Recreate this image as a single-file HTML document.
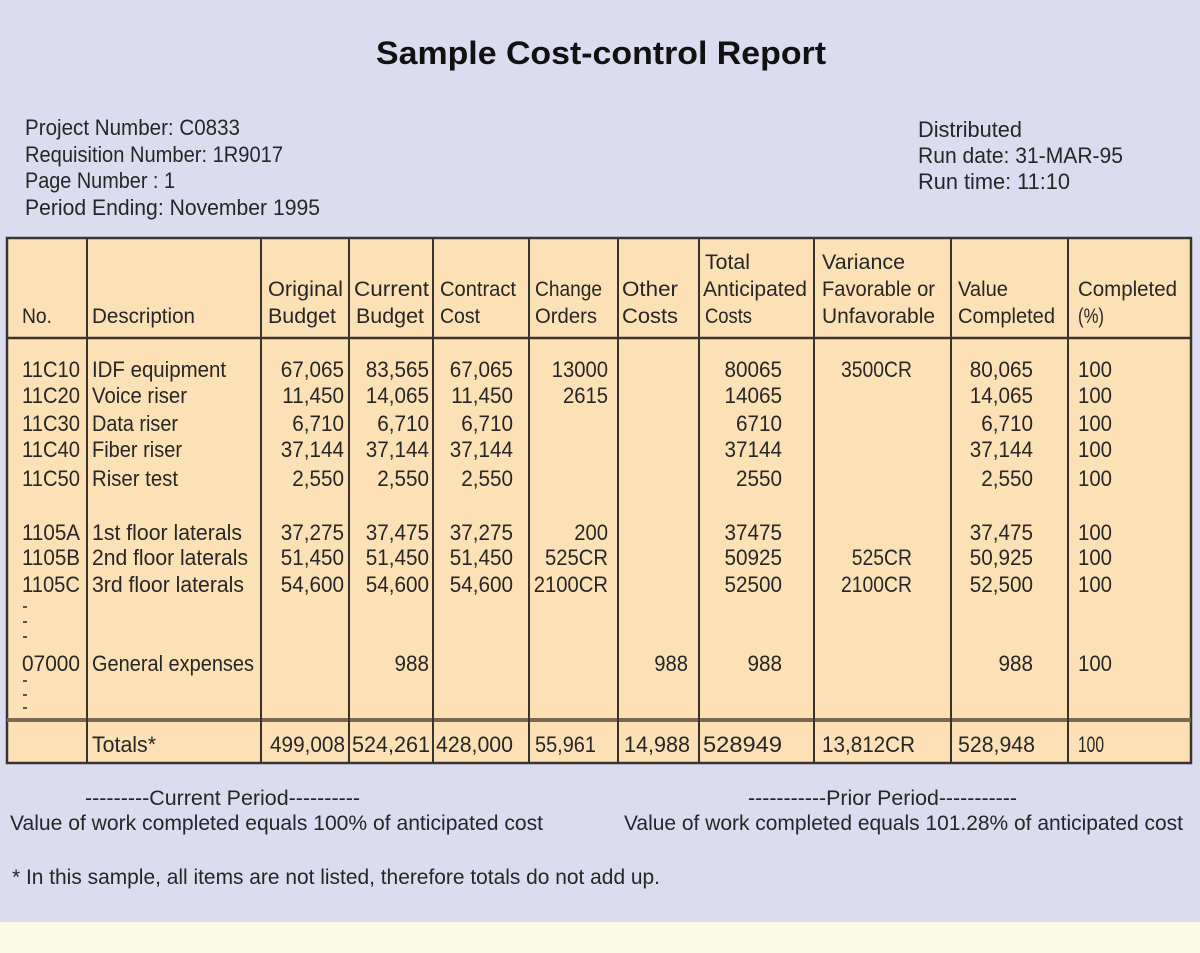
<!DOCTYPE html>
<html><head><meta charset="utf-8"><style>
html,body{margin:0;padding:0;background:#dcdcf0;}
svg{display:block;}
text{font-family:"Liberation Sans",Arial,sans-serif;fill:#262626;}
</style></head><body>
<svg width="1200" height="953" viewBox="0 0 1200 953" xmlns="http://www.w3.org/2000/svg">
<rect x="0" y="0" width="1200" height="953" fill="#dcdcf0"/>
<rect x="0" y="922" width="1200" height="31" fill="#fafbe4"/>

<!-- Title -->
<text x="376" y="64" font-size="32" font-weight="bold" textLength="450" lengthAdjust="spacingAndGlyphs" style="fill:#111">Sample Cost-control Report</text>

<!-- Left info -->
<g font-size="22">
<text x="25" y="135" textLength="215" lengthAdjust="spacingAndGlyphs">Project Number: C0833</text>
<text x="25" y="162" textLength="258" lengthAdjust="spacingAndGlyphs">Requisition Number: 1R9017</text>
<text x="25" y="188" textLength="150" lengthAdjust="spacingAndGlyphs">Page Number : 1</text>
<text x="25" y="215" textLength="295" lengthAdjust="spacingAndGlyphs">Period Ending: November 1995</text>
<text x="918" y="137" textLength="104" lengthAdjust="spacingAndGlyphs">Distributed</text>
<text x="918" y="163" textLength="205" lengthAdjust="spacingAndGlyphs">Run date: 31-MAR-95</text>
<text x="918" y="189" textLength="152" lengthAdjust="spacingAndGlyphs">Run time:  11:10</text>
</g>

<!-- Table -->
<rect x="7" y="238" width="1184" height="525" fill="#fde1b6" stroke="#3a332e" stroke-width="2.5"/>
<line x1="7" y1="338" x2="1191" y2="338" stroke="#3a332e" stroke-width="2.5"/>
<line x1="7" y1="720" x2="1191" y2="720" stroke="#7a6a58" stroke-width="4"/>
<g stroke="#3a332e" stroke-width="2">
<line x1="87" y1="238" x2="87" y2="763"/>
<line x1="261" y1="238" x2="261" y2="763"/>
<line x1="349" y1="238" x2="349" y2="763"/>
<line x1="433" y1="238" x2="433" y2="763"/>
<line x1="529" y1="238" x2="529" y2="763"/>
<line x1="618" y1="238" x2="618" y2="763"/>
<line x1="699" y1="238" x2="699" y2="763"/>
<line x1="814" y1="238" x2="814" y2="763"/>
<line x1="951" y1="238" x2="951" y2="763"/>
<line x1="1068" y1="238" x2="1068" y2="763"/>
</g>

<!-- Header -->
<g font-size="21">
<text x="22" y="323" textLength="30" lengthAdjust="spacingAndGlyphs">No.</text>
<text x="92" y="323" textLength="103" lengthAdjust="spacingAndGlyphs">Description</text>
<text x="268" y="296" textLength="75" lengthAdjust="spacingAndGlyphs">Original</text>
<text x="268" y="323" textLength="68" lengthAdjust="spacingAndGlyphs">Budget</text>
<text x="354" y="296" textLength="75" lengthAdjust="spacingAndGlyphs">Current</text>
<text x="356" y="323" textLength="68" lengthAdjust="spacingAndGlyphs">Budget</text>
<text x="440" y="296" textLength="76" lengthAdjust="spacingAndGlyphs">Contract</text>
<text x="440" y="323" textLength="40" lengthAdjust="spacingAndGlyphs">Cost</text>
<text x="535" y="296" textLength="67" lengthAdjust="spacingAndGlyphs">Change</text>
<text x="535" y="323" textLength="62" lengthAdjust="spacingAndGlyphs">Orders</text>
<text x="622" y="296" textLength="56" lengthAdjust="spacingAndGlyphs">Other</text>
<text x="622" y="323" textLength="56" lengthAdjust="spacingAndGlyphs">Costs</text>
<text x="705" y="269" textLength="45" lengthAdjust="spacingAndGlyphs">Total</text>
<text x="703" y="296" textLength="104" lengthAdjust="spacingAndGlyphs">Anticipated</text>
<text x="705" y="323" textLength="47" lengthAdjust="spacingAndGlyphs">Costs</text>
<text x="822" y="269" textLength="83" lengthAdjust="spacingAndGlyphs">Variance</text>
<text x="822" y="296" textLength="113" lengthAdjust="spacingAndGlyphs">Favorable or</text>
<text x="822" y="323" textLength="113" lengthAdjust="spacingAndGlyphs">Unfavorable</text>
<text x="958" y="296" textLength="50" lengthAdjust="spacingAndGlyphs">Value</text>
<text x="958" y="323" textLength="97" lengthAdjust="spacingAndGlyphs">Completed</text>
<text x="1078" y="296" textLength="99" lengthAdjust="spacingAndGlyphs">Completed</text>
<text x="1078" y="323" textLength="26" lengthAdjust="spacingAndGlyphs">(%)</text>
</g>

<!-- Data rows -->
<g font-size="22">
<text x="22" y="377" textLength="58" lengthAdjust="spacingAndGlyphs">11C10</text>
<text x="22" y="403" textLength="58" lengthAdjust="spacingAndGlyphs">11C20</text>
<text x="22" y="431" textLength="58" lengthAdjust="spacingAndGlyphs">11C30</text>
<text x="22" y="457" textLength="58" lengthAdjust="spacingAndGlyphs">11C40</text>
<text x="22" y="486" textLength="58" lengthAdjust="spacingAndGlyphs">11C50</text>
<text x="22" y="540" textLength="58" lengthAdjust="spacingAndGlyphs">1105A</text>
<text x="22" y="565" textLength="58" lengthAdjust="spacingAndGlyphs">1105B</text>
<text x="22" y="592" textLength="58" lengthAdjust="spacingAndGlyphs">1105C</text>
<text x="22" y="671" textLength="58" lengthAdjust="spacingAndGlyphs">07000</text>
<text x="92" y="377" textLength="134" lengthAdjust="spacingAndGlyphs">IDF equipment</text>
<text x="92" y="403" textLength="95" lengthAdjust="spacingAndGlyphs">Voice riser</text>
<text x="92" y="431" textLength="86" lengthAdjust="spacingAndGlyphs">Data riser</text>
<text x="92" y="457" textLength="90" lengthAdjust="spacingAndGlyphs">Fiber riser</text>
<text x="92" y="486" textLength="86" lengthAdjust="spacingAndGlyphs">Riser test</text>
<text x="92" y="540" textLength="150" lengthAdjust="spacingAndGlyphs">1st floor laterals</text>
<text x="92" y="565" textLength="156" lengthAdjust="spacingAndGlyphs">2nd floor laterals</text>
<text x="92" y="592" textLength="152" lengthAdjust="spacingAndGlyphs">3rd floor laterals</text>
<text x="92" y="671" textLength="162" lengthAdjust="spacingAndGlyphs">General expenses</text>
</g>

<g font-size="22" text-anchor="end">
<!-- Original Budget -->
<g transform="translate(344,0) scale(0.94,1)">
<text x="0" y="377">67,065</text>
<text x="0" y="403">11,450</text>
<text x="0" y="431">6,710</text>
<text x="0" y="457">37,144</text>
<text x="0" y="486">2,550</text>
<text x="0" y="540">37,275</text>
<text x="0" y="565">51,450</text>
<text x="0" y="592">54,600</text>
</g>
<!-- Current Budget -->
<g transform="translate(429,0) scale(0.94,1)">
<text x="0" y="377">83,565</text>
<text x="0" y="403">14,065</text>
<text x="0" y="431">6,710</text>
<text x="0" y="457">37,144</text>
<text x="0" y="486">2,550</text>
<text x="0" y="540">37,475</text>
<text x="0" y="565">51,450</text>
<text x="0" y="592">54,600</text>
<text x="0" y="671">988</text>
</g>
<!-- Contract Cost -->
<g transform="translate(513,0) scale(0.94,1)">
<text x="0" y="377">67,065</text>
<text x="0" y="403">11,450</text>
<text x="0" y="431">6,710</text>
<text x="0" y="457">37,144</text>
<text x="0" y="486">2,550</text>
<text x="0" y="540">37,275</text>
<text x="0" y="565">51,450</text>
<text x="0" y="592">54,600</text>
</g>
<!-- Change Orders -->
<g transform="translate(608,0) scale(0.92,1)">
<text x="0" y="377">13000</text>
<text x="0" y="403">2615</text>
<text x="0" y="540">200</text>
<text x="0" y="565">525CR</text>
<text x="0" y="592">2100CR</text>
</g>
<!-- Other costs -->
<g transform="translate(688,0) scale(0.92,1)">
<text x="0" y="671">988</text>
</g>
<!-- Total Anticipated -->
<g transform="translate(782,0) scale(0.94,1)">
<text x="0" y="377">80065</text>
<text x="0" y="403">14065</text>
<text x="0" y="431">6710</text>
<text x="0" y="457">37144</text>
<text x="0" y="486">2550</text>
<text x="0" y="540">37475</text>
<text x="0" y="565">50925</text>
<text x="0" y="592">52500</text>
<text x="0" y="671">988</text>
</g>
<!-- Variance -->
<g transform="translate(912,0) scale(0.88,1)">
<text x="0" y="377">3500CR</text>
<text x="0" y="565">525CR</text>
<text x="0" y="592">2100CR</text>
</g>
<!-- Value Completed -->
<g transform="translate(1033,0) scale(0.94,1)">
<text x="0" y="377">80,065</text>
<text x="0" y="403">14,065</text>
<text x="0" y="431">6,710</text>
<text x="0" y="457">37,144</text>
<text x="0" y="486">2,550</text>
<text x="0" y="540">37,475</text>
<text x="0" y="565">50,925</text>
<text x="0" y="592">52,500</text>
<text x="0" y="671">988</text>
</g>
</g>
<g font-size="22">
<text x="1078" y="377" textLength="34" lengthAdjust="spacingAndGlyphs">100</text>
<text x="1078" y="403" textLength="34" lengthAdjust="spacingAndGlyphs">100</text>
<text x="1078" y="431" textLength="34" lengthAdjust="spacingAndGlyphs">100</text>
<text x="1078" y="457" textLength="34" lengthAdjust="spacingAndGlyphs">100</text>
<text x="1078" y="486" textLength="34" lengthAdjust="spacingAndGlyphs">100</text>
<text x="1078" y="540" textLength="34" lengthAdjust="spacingAndGlyphs">100</text>
<text x="1078" y="565" textLength="34" lengthAdjust="spacingAndGlyphs">100</text>
<text x="1078" y="592" textLength="34" lengthAdjust="spacingAndGlyphs">100</text>
<text x="1078" y="671" textLength="34" lengthAdjust="spacingAndGlyphs">100</text>
</g>

<!-- vertical dots -->
<g fill="#555">
<rect x="23" y="606" width="4" height="2"/>
<rect x="23" y="621" width="4" height="2"/>
<rect x="23" y="636" width="4" height="2"/>
<rect x="23" y="680" width="4" height="2"/>
<rect x="23" y="694" width="4" height="2"/>
<rect x="23" y="707" width="4" height="2"/>
</g>

<!-- Totals -->
<g font-size="22">
<text x="92" y="752" textLength="64" lengthAdjust="spacingAndGlyphs">Totals*</text>
<text x="270" y="752" textLength="75" lengthAdjust="spacingAndGlyphs">499,008</text>
<text x="352" y="752" textLength="78" lengthAdjust="spacingAndGlyphs">524,261</text>
<text x="436" y="752" textLength="77" lengthAdjust="spacingAndGlyphs">428,000</text>
<text x="535" y="752" textLength="61" lengthAdjust="spacingAndGlyphs">55,961</text>
<text x="624" y="752" textLength="66" lengthAdjust="spacingAndGlyphs">14,988</text>
<text x="703" y="752" textLength="79" lengthAdjust="spacingAndGlyphs">528949</text>
<text x="822" y="752" textLength="93" lengthAdjust="spacingAndGlyphs">13,812CR</text>
<text x="958" y="752" textLength="77" lengthAdjust="spacingAndGlyphs">528,948</text>
<text x="1078" y="752" textLength="26" lengthAdjust="spacingAndGlyphs">100</text>
</g>

<!-- Footer -->
<g font-size="21">
<text x="85" y="805" textLength="275" lengthAdjust="spacingAndGlyphs">---------Current Period----------</text>
<text x="10" y="830" textLength="533" lengthAdjust="spacingAndGlyphs">Value of work completed equals 100% of anticipated cost</text>
<text x="748" y="805" textLength="269" lengthAdjust="spacingAndGlyphs">-----------Prior Period-----------</text>
<text x="624" y="830" textLength="559" lengthAdjust="spacingAndGlyphs">Value of work completed equals 101.28% of anticipated cost</text>
<text x="12" y="884" textLength="648" lengthAdjust="spacingAndGlyphs">* In this sample, all items are not listed, therefore totals do not add up.</text>
</g>
</svg>
</body></html>
